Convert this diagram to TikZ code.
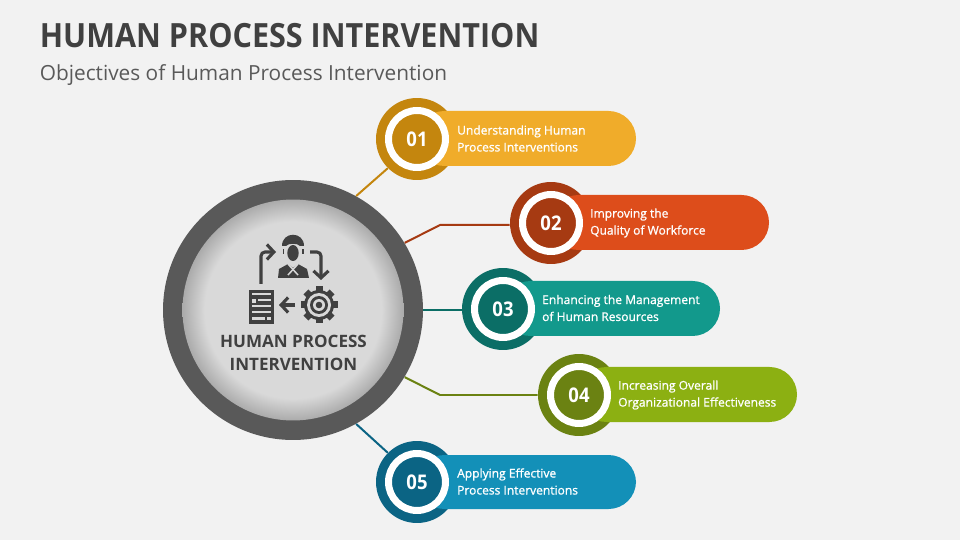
\documentclass[tikz,border=0pt]{standalone}
\usepackage{fontspec}
\setmainfont{Open Sans}
\newfontfamily\semifont[FakeBold=1]{Open Sans}
\newfontfamily\titlefont[FakeStretch=0.915]{Open Sans}
\definecolor{pagegray}{HTML}{F2F2F2}
\definecolor{hubdark}{HTML}{595959}
\definecolor{hubface}{HTML}{D9D9D9}
\definecolor{hubedge}{HTML}{ABABAB}
\definecolor{icondark}{HTML}{404040}
\definecolor{deepone}{HTML}{C4860E}
\definecolor{pillone}{HTML}{F0AC2A}
\definecolor{deeptwo}{HTML}{A63A12}
\definecolor{pilltwo}{HTML}{DD4D1B}
\definecolor{deepthree}{HTML}{0B6E66}
\definecolor{pillthree}{HTML}{12998C}
\definecolor{deepfour}{HTML}{6B8212}
\definecolor{pillfour}{HTML}{8CB012}
\definecolor{deepfive}{HTML}{0B6484}
\definecolor{pillfive}{HTML}{1390B8}
\pgfdeclareradialshading{hubshade}{\pgfpointorigin}{color(0bp)=(hubface); color(20bp)=(hubface); color(25bp)=(hubedge); color(50bp)=(hubedge)}
\usetikzlibrary{arrows.meta}
\tikzset{
    badge/.style={circle, minimum size=1.64cm, inner sep=0pt},
    numring/.style={circle, draw=white, line width=0.14cm, minimum size=1.14cm, inner sep=0pt, text=white, font=\fontsize{11.5}{13}\titlefont\bfseries},
    pilltext/.style={anchor=west, align=left, text=white, font=\fontsize{6.85}{9.64}\semifont},
    link/.style={line width=0.04cm},
    iconline/.style={draw=icondark, line width=0.062cm, rounded corners=0.08cm},
    iconhead/.style={-{Straight Barb[length=0.14cm, width=0.3cm, line width=0.062cm]}}
}

\begin{document}
\begin{tikzpicture}[x=0.02cm, y=-0.02cm]
    \fill [pagegray] (0,0) rectangle (960,540);
    \useasboundingbox (0,0) rectangle (960,540);

    \node [anchor=west, inner sep=0pt, text=icondark, font=\fontsize{19}{23}\titlefont\bfseries] (title) at (39.5,35.5) {HUMAN PROCESS INTERVENTION};
    \node [anchor=west, inner sep=0pt, text=hubdark, font=\fontsize{11.85}{14}\selectfont] (subtitle) at (39.5,75) {Objectives of Human Process Intervention};

    % centre circle
    \node [circle, fill=hubdark, minimum size=5.2cm, inner sep=0pt] (hub) at (293,310) {};
    \node [circle, shading=hubshade, minimum size=4.42cm, inner sep=0pt] (hubinner) at (293,310) {};

    % outer discs and connectors
    \node [badge, fill=deepone] (disc1) at (417,139) {};
    \node [badge, fill=deeptwo] (disc2) at (551,223) {};
    \node [badge, fill=deepthree] (disc3) at (503,309) {};
    \node [badge, fill=deepfour] (disc4) at (579,395) {};
    \node [badge, fill=deepfive] (disc5) at (417,482) {};
    \coordinate (bend2) at (440,225);
    \coordinate (bend4) at (440,395);
    \draw [link, deepone] (hub.61) -- (disc1.225);
    \draw [link, deeptwo] (hub.31) -- (bend2) -- (disc2.west |- bend2);
    \draw [link, deepthree] (hub.east) -- (hub.east -| disc3.west);
    \draw [link, deepfour] (hub.-31) -- (bend4) -- (disc4.west |- bend4);
    \draw [link, deepfive] (hub.-61) -- (disc5.135);

    % pills
    \fill [pillone, rounded corners=0.55cm] (417,111) rectangle (636,166);
    \fill [pilltwo, rounded corners=0.55cm] (551,195) rectangle (769,250);
    \fill [pillthree, rounded corners=0.55cm] (503,281) rectangle (720,336);
    \fill [pillfour, rounded corners=0.55cm] (579,367) rectangle (797,422);
    \fill [pillfive, rounded corners=0.55cm] (417,455) rectangle (636,509);

    \node [numring, fill=deepone] (num1) at (disc1) {01};
    \node [numring, fill=deeptwo] (num2) at (disc2) {02};
    \node [numring, fill=deepthree] (num3) at (disc3) {03};
    \node [numring, fill=deepfour] (num4) at (disc4) {04};
    \node [numring, fill=deepfive] (num5) at (disc5) {05};

    \node [pilltext] (text1) at (451,138.5) {Understanding Human\\Process Interventions};
    \node [pilltext] (text2) at (584,223) {Improving the\\Quality of Workforce};
    \node [pilltext] (text3) at (536,308) {Enhancing the Management\\of Human Resources};
    \node [pilltext] (text4) at (612,395) {Increasing Overall\\Organizational Effectiveness};
    \node [pilltext] (text5) at (451,481.5) {Applying Effective\\Process Interventions};

    \node [align=center, text=icondark, font=\fontsize{9.7}{13}\selectfont\bfseries] (hublabel) at (293.5,353) {HUMAN PROCESS\\INTERVENTION};

    % icon: person
    \fill [icondark] (282,246) .. controls (282,231) and (304,231) .. (304,246) -- (300,246) .. controls (298,243) and (288,243) .. (286,246) -- cycle;
    \fill [icondark] (293,253) ellipse (5.7 and 8);
    \fill [icondark] (282.5,249) rectangle (284,254);
    \fill [icondark] (302,249) rectangle (303.5,254);
    \fill [icondark] (278,278) -- (279,269) -- (288,264) -- (293,268) -- (298,264) -- (307,269) -- (309,278) -- cycle;
    \draw [hubface, line width=0.03cm] (288,264) -- (298,275) (298,264) -- (288,275);

    % icon: arrows
    \draw [iconline, iconhead] (261,284) -- (261,252) -- (276,252);
    \draw [iconline, iconhead] (310,252) -- (321,252) -- (321,280);
    \draw [iconline, iconhead] (295,305) -- (279,305);

    % icon: document
    \fill [icondark] (249,290) rectangle (274,324);
    \fill [hubface] (252,293) rectangle (271,295.5);
    \fill [hubface] (258,299) rectangle (271,301.5);
    \fill [hubface] (252,299) rectangle (256,303);
    \fill [hubface] (252,305) rectangle (271,307.5);
    \fill [hubface] (252,311) rectangle (271,313.5);
    \fill [hubface] (252,317) rectangle (265,320);
    \fill [hubface] (267,317) rectangle (271,320);

    % icon: gear
    \foreach \a in {0,45,...,315} {
        \fill [icondark, rotate around={\a:(319,305)}] (315.5,286.5) rectangle (322.5,295);
    }
    \fill [icondark] (319,305) circle (15);
    \fill [hubface] (319,305) circle (12);
    \fill [icondark] (319,305) circle (9);
    \fill [hubface] (319,305) circle (6);
    \fill [icondark] (319,305) circle (3.3);
\end{tikzpicture}
\end{document}
